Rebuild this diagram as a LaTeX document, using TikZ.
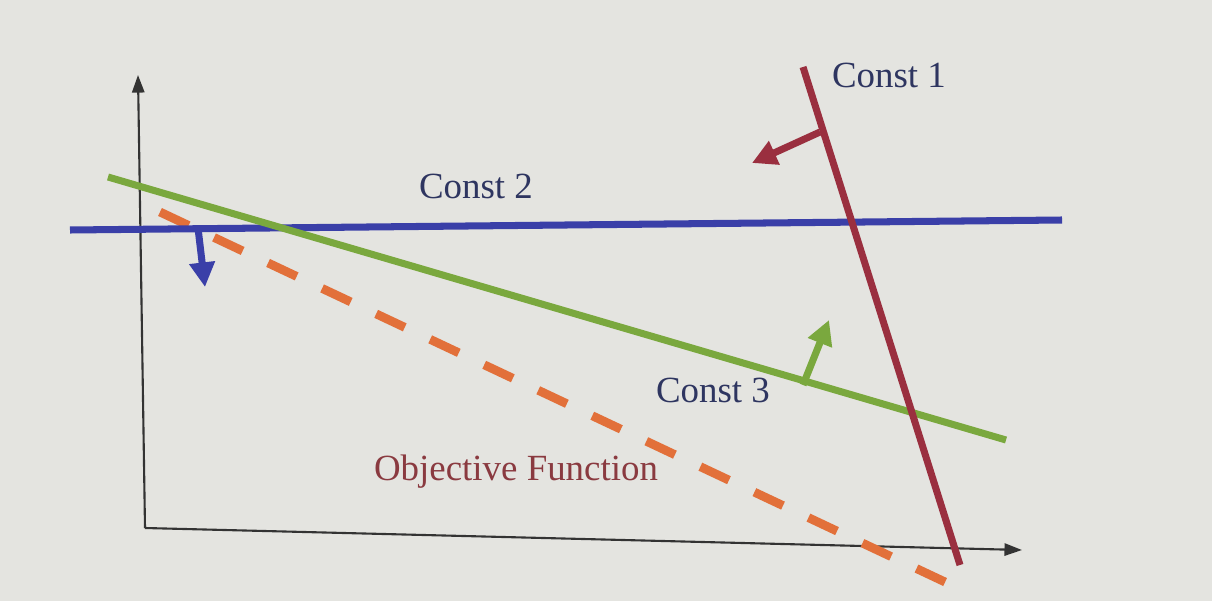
\documentclass[tikz,border=0pt]{standalone}
\usepackage{fontspec}
\setmainfont{Liberation Serif}
\usetikzlibrary{arrows.meta}
\definecolor{bg}{HTML}{E4E4E0}
\definecolor{cred}{HTML}{9A2F3F}
\definecolor{cblue}{HTML}{3A3FA8}
\definecolor{cgreen}{HTML}{7AA83E}
\definecolor{corange}{HTML}{E2703A}
\definecolor{ctext}{HTML}{2E3560}
\definecolor{cobj}{HTML}{8A3A40}
\begin{document}
\begin{tikzpicture}[x=0.02cm,y=-0.02cm,
  axis/.style={line width=1.2pt,black!80,-{Triangle[length=10pt,width=7pt]}},
  cline/.style={line width=4pt},
  carrow/.style={line width=4pt,-{Triangle[length=14pt,width=14pt]}},
  lbl/.style={font=\fontsize{21}{24}\selectfont,text=ctext}]
\fill[bg] (0,0) rectangle (1212,601);
\useasboundingbox (0,0) rectangle (1212,601);
% axes
\coordinate (o) at (145,528);
\coordinate (ytop) at (138,75);
\coordinate (xend) at (1022,550);
\draw[axis] (o) -- (ytop);
\draw[axis] (o) -- (xend);
% objective
\coordinate (ob1) at (160,212);
\coordinate (ob2) at (962,590);
\draw[corange,line width=5pt,dash pattern=on 18pt off 16pt] (ob1) -- (ob2);
% const 2
\coordinate (b1) at (70,230);
\coordinate (b2) at (1062,220);
\draw[cline,cblue] (b1) -- (b2);
\coordinate (bs) at (198,228);
\coordinate (be) at (205,287);
\draw[carrow,cblue] (bs) -- (be);
% const 3
\coordinate (g1) at (108,177);
\coordinate (g2) at (1006,440);
\draw[cline,cgreen] (g1) -- (g2);
\coordinate (gs) at (803,385);
\coordinate (ge) at (829,320);
\draw[carrow,cgreen] (gs) -- (ge);
% const 1
\coordinate (r1) at (803,67);
\coordinate (r2) at (960,565);
\draw[cline,cred] (r1) -- (r2);
\coordinate (rs) at (820,132);
\coordinate (re) at (752,163);
\draw[carrow,cred] (rs) -- (re);
% labels
\node[lbl] (l1) at (889,75) {Const 1};
\node[lbl] (l2) at (476,186) {Const 2};
\node[lbl] (l3) at (713,390) {Const 3};
\node[lbl,text=cobj] (lo) at (516,472) {Objective Function};
\end{tikzpicture}
\end{document}
